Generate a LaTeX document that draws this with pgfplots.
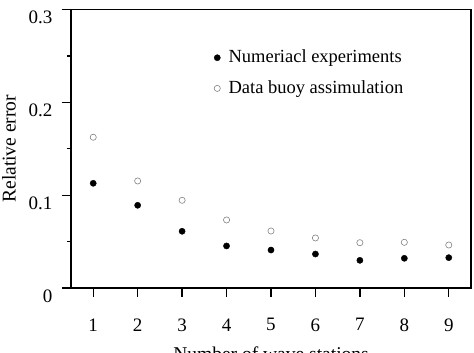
\documentclass[border=0pt]{standalone}
\usepackage{pgfplots}
\pgfplotsset{compat=1.18}
\usepackage{fontspec}
\setmainfont{Liberation Serif}
\begin{document}
\fontsize{19bp}{23bp}\selectfont
\begin{tikzpicture}
\path[use as bounding box] (-71bp,-65bp) rectangle (403bp,288bp);
\begin{axis}[
  at={(0,0)}, anchor=south west,
  scale only axis, width=400bp, height=278.5bp,
  xmin=0.5, xmax=9.5, ymin=0, ymax=0.3,
  axis line style={line width=1.6pt},
  xtick={1,...,9}, ytick={0,0.1,0.2,0.3}, minor ytick={0.05,0.15,0.25},
  xtick pos=bottom, ytick pos=left,
  tick align=outside,
  major tick length=9bp, minor tick length=4bp,
  every tick/.style={line width=1.3pt, black},
  /pgf/number format/assume math mode=true,
  /pgf/number format/fixed,
  tick label style={font=\fontsize{19bp}{22bp}\selectfont},
  yticklabel style={yshift=-8bp, xshift=-3bp},
  xticklabel style={yshift=-15bp},
  label style={font=\fontsize{19.5bp}{23bp}\selectfont},
  xlabel={Number of wave stations},
  xlabel style={yshift=-3bp},
  ylabel={Relative error},
  legend cell align=left,
  legend style={at={(axis cs:3.6,0.261)}, anchor=north west, draw=none, fill=none,
    font=\fontsize{18.5bp}{22bp}\selectfont, row sep=11bp},
  legend image code/.code={\path (0bp,0bp) (14bp,0bp); \draw[mark repeat=2,mark phase=2,#1] plot coordinates {(0bp,0bp)(5bp,0bp)(10bp,0bp)};},
]
\addplot[only marks, mark=*, mark size=3.1bp, black] coordinates {
(1,0.1128) (2,0.0891) (3,0.0611) (4,0.0453) (5,0.0409) (6,0.0366) (7,0.0298) (8,0.0320) (9,0.0327)};
\addlegendentry{Numeriacl experiments}
\addplot[only marks, mark=o, mark size=3.1bp, gray, line width=0.6pt] coordinates {
(1,0.1624) (2,0.1153) (3,0.0945) (4,0.0733) (5,0.0614) (6,0.0539) (7,0.0488) (8,0.0492) (9,0.0463)};
\addlegendentry{Data buoy assimulation}
\end{axis}
\end{tikzpicture}
\end{document}
